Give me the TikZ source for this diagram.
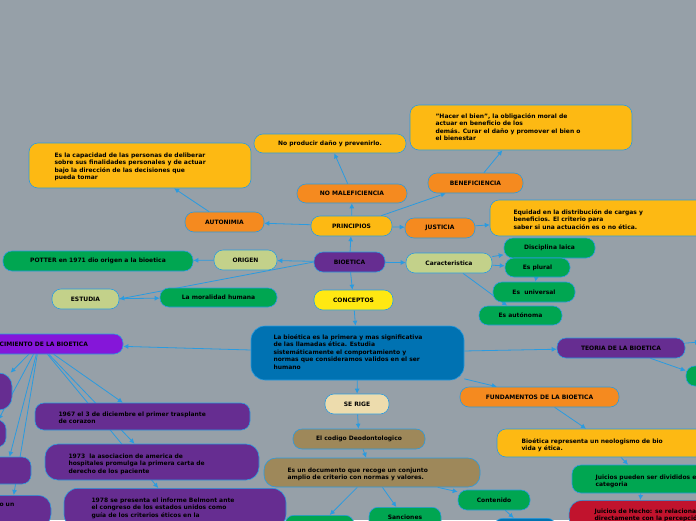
\documentclass[tikz,border=0pt]{standalone}
\usepackage{fontspec}
\setmainfont{DejaVu Sans}
\usetikzlibrary{arrows.meta}
\pgfdeclarelayer{bgl}
\pgfsetlayers{bgl,main}
\definecolor{bg}{HTML}{96A0A8}
\definecolor{ln}{HTML}{2A9BE0}
\definecolor{yel}{HTML}{FDB913}
\definecolor{org}{HTML}{F58A1F}
\definecolor{lg}{HTML}{C3D18A}
\definecolor{gr}{HTML}{00A651}
\definecolor{pu}{HTML}{662D91}
\definecolor{vi}{HTML}{8516D9}
\definecolor{bl}{HTML}{0072B2}
\definecolor{cr}{HTML}{EDDCAD}
\definecolor{tan}{HTML}{9E885A}
\definecolor{rd}{HTML}{C1132D}
\definecolor{cy}{HTML}{FFE812}
\begin{document}
\begin{tikzpicture}[x=1pt,y=-1pt,
 bx/.style={draw=ln,line width=0.6pt,rounded corners=9pt,inner sep=0pt,font=\fontsize{6}{8}\selectfont\bfseries,text=black},
 tx/.style={font=\fontsize{6}{7.5}\selectfont\bfseries,align=left,anchor=north west},
 ar/.style={draw=ln,line width=0.8pt,-{Latex[length=5pt,width=5pt]}}]
\begin{pgfonlayer}{bgl}
\fill[bg] (0,0) rectangle (696,520);
\end{pgfonlayer}
\useasboundingbox (0,0) rectangle (696,520);
% single-line boxes
\node[bx,fill=yel,minimum width=152,minimum height=19] (noprod) at (330,143.5) {No producir daño y prevenirlo.};
\node[bx,fill=org,minimum width=110,minimum height=19] (nomal) at (352,193.5) {NO MALEFICIENCIA};
\node[bx,fill=org,minimum width=95,minimum height=20] (benef) at (475.5,183) {BENEFICIENCIA};
\node[bx,fill=org,minimum width=79,minimum height=20] (auto) at (224.5,222) {AUTONIMIA};
\node[bx,fill=yel,minimum width=81,minimum height=20] (princ) at (351.5,226) {PRINCIPIOS};
\node[bx,fill=org,minimum width=70,minimum height=20] (just) at (440,228) {JUSTICIA};
\node[bx,fill=lg,minimum width=63,minimum height=20] (orig) at (245.5,260) {ORIGEN};
\node[bx,fill=gr,minimum width=190,minimum height=20] (potter) at (98,261) {POTTER en 1971 dio origen a la bioetica};
\node[bx,fill=pu,minimum width=71,minimum height=20] (bio) at (349.5,262) {BIOETICA};
\node[bx,fill=lg,minimum width=86,minimum height=20] (carac) at (449,263) {Caracteristica};
\node[bx,fill=gr,minimum width=91,minimum height=20] (disc) at (549.5,248) {Disciplina laica};
\node[bx,fill=gr,minimum width=65,minimum height=19] (plur) at (537.5,267.5) {Es plural};
\node[bx,fill=gr,minimum width=82,minimum height=20] (univ) at (534,292) {Es\ \ universal};
\node[bx,fill=gr,minimum width=83,minimum height=19] (auton) at (520.5,315.5) {Es autónoma};
\node[bx,fill=lg,minimum width=67,minimum height=20] (estu) at (85.5,299) {ESTUDIA};
\node[bx,fill=gr,minimum width=117,minimum height=19] (moral) at (218.5,297.5) {La moralidad humana};
\node[bx,fill=cy,minimum width=79,minimum height=20] (conc) at (353.5,300) {CONCEPTOS};
\node[bx,fill=vi,minimum width=168,minimum height=20] (nac) at (39,344) {NACIMIENTO DE LA BIOETICA};
\node[bx,fill=pu,minimum width=128,minimum height=20] (teo) at (621,348) {TEORIA DE LA BIOETICA};
\node[bx,fill=gr,minimum width=30,minimum height=20] (tg) at (701,376) {};
\node[bx,fill=cr,minimum width=64,minimum height=20] (rige) at (357,404) {SE RIGE};
\node[bx,fill=org,minimum width=159,minimum height=20] (fund) at (539.5,397) {FUNDAMENTOS DE LA BIOETICA};
\node[bx,fill=tan,minimum width=132,minimum height=20] (cod) at (359,439) {El codigo Deodontologico};
\node[bx,fill=gr,minimum width=72,minimum height=20] (cont) at (494,500) {Contenido};
\node[bx,fill=gr,minimum width=72,minimum height=24,anchor=north] (sanc) at (405,507) {};
\node[font=\fontsize{6}{8}\selectfont\bfseries] at (405,517) {Sanciones};
\node[bx,fill=gr,minimum width=69,minimum height=20,anchor=north] (g1) at (319.5,515) {};
\node[bx,fill=bl,minimum width=62,minimum height=20,anchor=north] (b1) at (525,518) {};
% multi-line boxes
\node[bx,fill=yel,minimum width=222,minimum height=45] (hacer) at (521,127.5) {};
\node[tx] at (432,110) {"Hacer el bien", la obligación moral de\\actuar en beneficio de los\\demás. Curar el daño y promover el bien o\\el bienestar};
\node[bx,fill=yel,minimum width=222,minimum height=45] (adesc) at (140,165.5) {};
\node[tx] at (51,149) {Es la capacidad de las personas de deliberar\\sobre sus finalidades personales y de actuar\\bajo la dirección de las decisiones que\\pueda tomar};
\node[bx,fill=yel,minimum width=220,minimum height=36] (equi) at (600,218) {};
\node[tx] at (510,206) {Equidad en la distribución de cargas y\\beneficios. El criterio para\\saber si una actuación es o no ética.};
\node[bx,fill=bl,minimum width=213,minimum height=54,rounded corners=14pt] (blue) at (357.5,353) {};
\node[tx] at (270,331) {La bioética es la primera y mas significativa\\de las llamadas ética. Estudia\\sistemáticamente el comportamiento y\\normas que consideramos validos en el ser\\humano};
\node[bx,fill=yel,minimum width=220,minimum height=28] (repr) at (607,443) {};
\node[tx] at (518,435) {Bioética representa un neologismo de bio\\vida y ética.};
\node[bx,fill=tan,minimum width=216,minimum height=29,rounded corners=12pt] (doc) at (372,472.5) {};
\node[tx] at (284,464) {Es un documento que recoge un conjunto\\amplio de criterio con normas y valores.};
\node[bx,fill=gr,minimum width=140,minimum height=28] (jui) at (642,479) {};
\node[tx] at (592,471) {Juicios pueden ser divididos en\\categoria};
\node[bx,fill=rd,minimum width=140,minimum height=30,rounded corners=13pt,anchor=north] (jh) at (639,500) {};
\node[tx] at (591,505) {Juicios de Hecho: se relacionan\\directamente con la percepción};
\node[bx,fill=pu,minimum width=215,minimum height=27] (y67) at (142.5,416.5) {};
\node[tx] at (55,408) {1967 el 3 de diciembre el primer trasplante\\de corazon};
\node[bx,fill=pu,minimum width=214,minimum height=36,rounded corners=13pt] (y73) at (152,462) {};
\node[tx] at (65,450) {1973\ \ la asociacion de america de\\hospitales promulga la primera carta de\\derecho de los paciente};
\node[bx,fill=pu,minimum width=222,minimum height=40,rounded corners=14pt,anchor=north] (y78) at (175,488) {};
\node[tx] at (88,494) {1978 se presenta el informe Belmont ante\\el congreso de los estados unidos como\\guía de los criterios éticos en la};
\node[bx,fill=pu,minimum width=40,minimum height=37,rounded corners=13pt] (p1) at (-8,391.5) {};
\node[bx,fill=pu,minimum width=30,minimum height=27] (p2) at (-9,433.5) {};
\node[bx,fill=pu,minimum width=50,minimum height=27] (p3) at (6,470.5) {};
\node[bx,fill=pu,minimum width=80,minimum height=32,rounded corners=13pt,anchor=north] (p4) at (11,495) {};
\node[tx,anchor=west] at (-4,505) {o un};
% connectors
\coordinate (tr) at (700,342);
\begin{pgfonlayer}{bgl}
\draw[ar] (bio) -- (princ);
\draw[ar] (bio) -- (orig);
\draw[ar] (bio) -- (carac);
\draw[ar] (bio) -- (conc);
\draw[ar] (bio.west) -- (estu.east);
\draw[ar] (estu) -- (moral);
\draw[ar] (orig) -- (potter);
\draw[ar] (princ) -- (auto);
\draw[ar] (princ) -- (nomal);
\draw[ar] (princ) -- (benef);
\draw[ar] (princ) -- (just);
\draw[ar] (nomal) -- (noprod);
\draw[ar] (auto) -- (adesc);
\draw[ar] (benef) -- (hacer);
\draw[ar] (just) -- (equi);
\draw[ar] (carac) -- (disc);
\draw[ar] (carac) -- (plur);
\draw[ar] (carac) -- (auton);
\draw[ar] (plur) -- (univ);
\draw[ar] (conc) -- (blue);
\draw[ar] (blue) -- (nac);
\draw[ar] (blue) -- (teo);
\draw[ar] (blue) -- (fund);
\draw[ar] (blue) -- (rige);
\draw[ar] (rige) -- (cod);
\draw[ar] (cod) -- (doc);
\draw[ar] (doc) -- (cont);
\draw[ar] (doc) -- (sanc);
\draw[ar] (doc) -- (g1);
\draw[ar] (cont) -- (b1);
\draw[ar] (fund) -- (repr);
\draw[ar] (repr) -- (jui);
\draw[ar] (jui) -- (jh);
\draw[ar] (teo) -- (tr);
\draw[ar] (teo) -- (tg);
\draw[ar] (nac) -- (y67);
\draw[ar] (nac) -- (y73);
\draw[ar] (nac) -- (y78);
\draw[ar] (nac) -- (p1);
\draw[ar] (nac) -- (p2);
\draw[ar] (nac) -- (p3);
\draw[ar] (nac) -- (p4);
\end{pgfonlayer}
\end{tikzpicture}
\end{document}
